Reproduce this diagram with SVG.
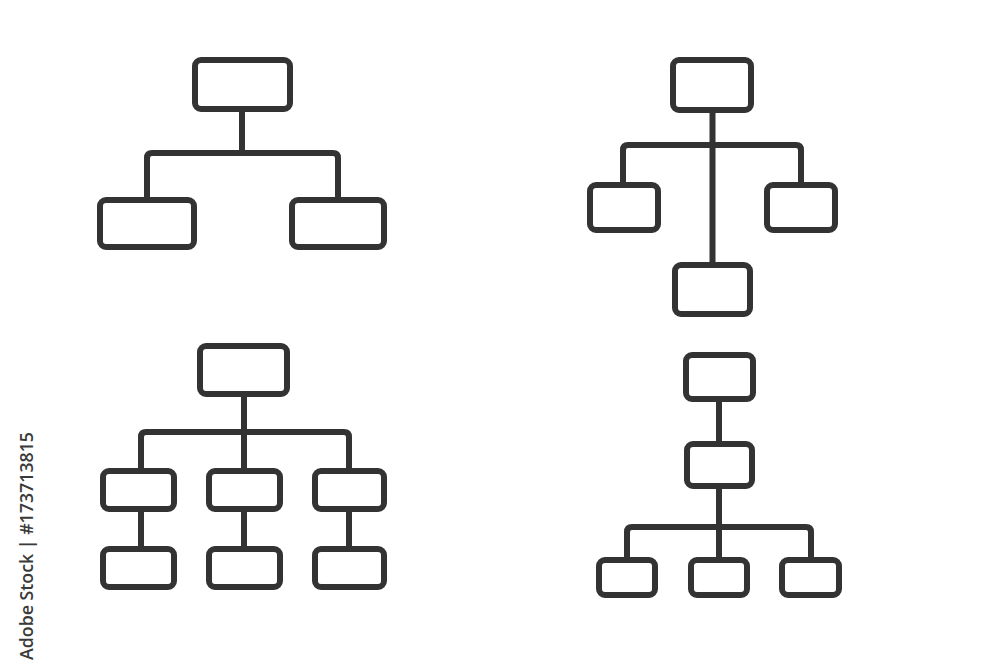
<svg xmlns="http://www.w3.org/2000/svg" width="1000" height="667" viewBox="0 0 1000 667">
<style>
.n{fill:none;stroke:#333;stroke-width:6;}
.c{fill:none;stroke:#333;stroke-width:6;stroke-linejoin:round;stroke-linecap:butt;}
.w{font-family:"Open Sans","Liberation Sans",sans-serif;font-size:18px;font-weight:600;fill:#3a3a3a;}
</style>
<rect width="1000" height="667" fill="#fff"/>
<g id="connectors">
<path class="c" d="M242 109V153M147 200V158Q147 153 152 153H333Q338 153 338 158V200"/>
<path class="c" d="M712.5 110V265M623 185V150Q623 145 628 145H796Q801 145 801 150V185"/>
<path class="c" d="M244 394V432M141 471V437Q141 432 146 432H344Q349 432 349 437V471M244 432V471M141 509V549M244 509V549M349 509V549"/>
<path class="c" d="M719 399V444M719 486V560M627 560V532Q627 527 632 527H806Q811 527 811 532V560"/>
</g>
<g id="d1-top"><rect class="n" x="195" y="60" width="95" height="49" rx="6"/></g>
<g id="d1-left"><rect class="n" x="100" y="200" width="94" height="47" rx="6"/></g>
<g id="d1-right"><rect class="n" x="292" y="200" width="92" height="47" rx="6"/></g>
<g id="d2-top"><rect class="n" x="673" y="60" width="78" height="50" rx="6"/></g>
<g id="d2-left"><rect class="n" x="590" y="185" width="68" height="45" rx="6"/></g>
<g id="d2-right"><rect class="n" x="767" y="185" width="68" height="45" rx="6"/></g>
<g id="d2-bottom"><rect class="n" x="675" y="265" width="75" height="49" rx="6"/></g>
<g id="d3-top"><rect class="n" x="200" y="346" width="87" height="48" rx="6"/></g>
<g id="d3-m1"><rect class="n" x="103" y="471" width="71" height="38" rx="6"/></g>
<g id="d3-m2"><rect class="n" x="209" y="471" width="71" height="38" rx="6"/></g>
<g id="d3-m3"><rect class="n" x="315" y="471" width="69" height="38" rx="6"/></g>
<g id="d3-b1"><rect class="n" x="103" y="549" width="71" height="38" rx="6"/></g>
<g id="d3-b2"><rect class="n" x="209" y="549" width="71" height="38" rx="6"/></g>
<g id="d3-b3"><rect class="n" x="315" y="549" width="69" height="38" rx="6"/></g>
<g id="d4-top"><rect class="n" x="686" y="355" width="67" height="44" rx="6"/></g>
<g id="d4-mid"><rect class="n" x="687" y="444" width="65" height="42" rx="6"/></g>
<g id="d4-b1"><rect class="n" x="599" y="560" width="56" height="35" rx="6"/></g>
<g id="d4-b2"><rect class="n" x="691" y="560" width="56" height="35" rx="6"/></g>
<g id="d4-b3"><rect class="n" x="782" y="560" width="57" height="35" rx="6"/></g>
<text class="w" transform="translate(33 660) rotate(-90)" textLength="228" lengthAdjust="spacingAndGlyphs">Adobe Stock | #173713815</text>
</svg>
